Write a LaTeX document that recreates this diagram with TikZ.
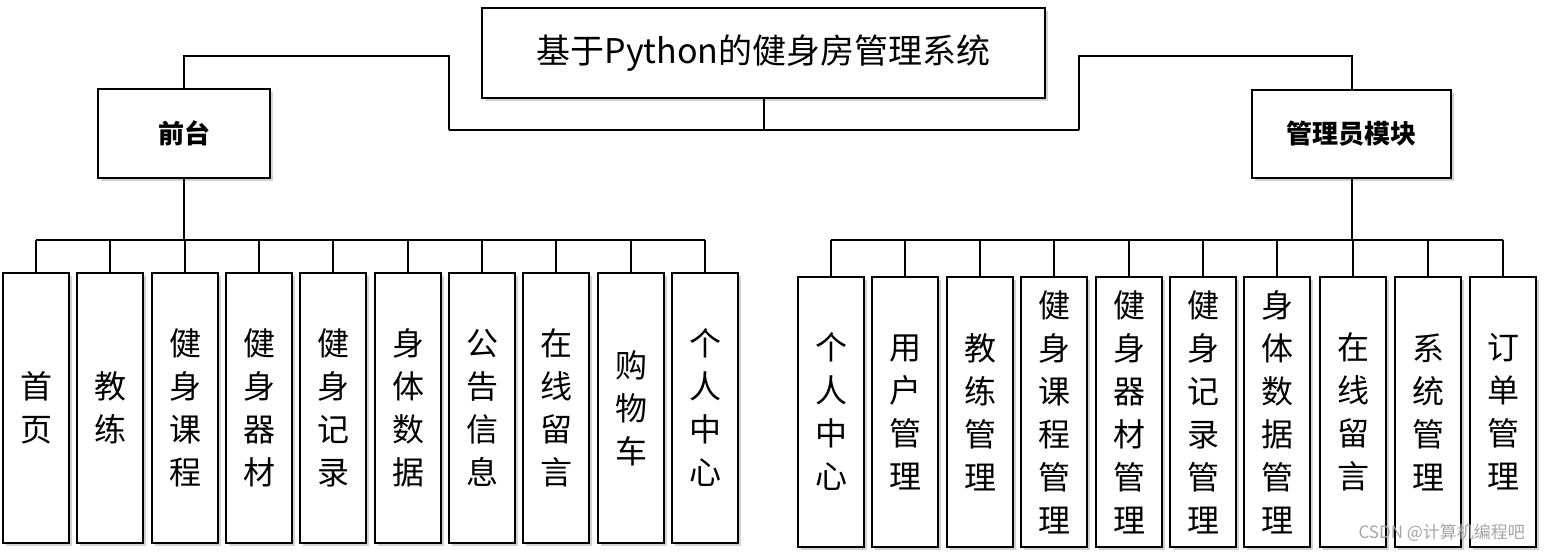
\documentclass[tikz,border=0pt]{standalone}
\usepackage{fontspec}
\setmainfont{Noto Sans CJK SC}
\usetikzlibrary{shadows}
\begin{document}
\begin{tikzpicture}[x=0.5pt,y=-0.5pt,
  box/.style={draw=black,line width=1pt,fill=white,inner sep=0pt,drop shadow={shadow xshift=1.5pt,shadow yshift=-1.5pt,opacity=0.35}},
  leaf/.style={box,minimum width=33pt,minimum height=135pt,font=\fontsize{16}{21.5}\selectfont,align=center},
  mid/.style={box,font=\fontsize{13}{15}\selectfont\bfseries},
  ln/.style={line width=1pt}]
\useasboundingbox (0,0) rectangle (1546,553);
\node[box,minimum width=281.5pt,minimum height=45pt,font=\fontsize{17}{20}\selectfont] (root) at (763.5,53) {基于Python的健身房管理系统};
\node[mid,minimum width=86pt,minimum height=44.5pt] (ft) at (184,133.5) {前台};
\node[mid,minimum width=99.5pt,minimum height=44pt] (adm) at (1351.5,134) {管理员模块};
\coordinate (j) at (763.5,130);
\draw[ln] (root.south) -- (j);
\draw[ln] (449,130) -- (1079,130);
\draw[ln] (449,130) -- (449,56) -| (ft.north);
\draw[ln] (1079,130) -- (1079,56) -| (adm.north);
% left
\foreach \x/\t [count=\i] in {36/首\\页,110/教\\练,185/健\\身\\课\\程,259/健\\身\\器\\材,333/健\\身\\记\\录,408/身\\体\\数\\据,482/公\\告\\信\\息,556/在\\线\\留\\言,631/购\\物\\车,705/个\\人\\中\\心}{
  \node[leaf] (l\i) at (\x,408) {\t};
}
\draw[ln] (ft.south) -- (184,240);
\draw[ln] (36,240) -- (705,240);
\foreach \i/\x in {1/36,2/110,3/185,4/259,5/333,6/408,7/482,8/556,9/631,10/705}{
  \draw[ln] (\x,240) -- (l\i.north);
}
% right
\foreach \x/\t [count=\i] in {831/个\\人\\中\\心,905/用\\户\\管\\理,980/教\\练\\管\\理,1054/健\\身\\课\\程\\管\\理,1129/健\\身\\器\\材\\管\\理,1203/健\\身\\记\\录\\管\\理,1277/身\\体\\数\\据\\管\\理,1353/在\\线\\留\\言,1428/系\\统\\管\\理,1503/订\\单\\管\\理}{
  \node[leaf] (r\i) at (\x,412) {\t};
}
\draw[ln] (adm.south) -- (1351.5,240);
\draw[ln] (831,240) -- (1503,240);
\foreach \i/\x in {1/831,2/905,3/980,4/1054,5/1129,6/1203,7/1277,8/1353,9/1428,10/1503}{
  \draw[ln] (\x,240) -- (r\i.north);
}
\node[text=gray!70,font=\fontsize{8.5}{10}\selectfont,anchor=east] (wm) at (1532,533) {CSDN @计算机编程吧};
\end{tikzpicture}
\end{document}
